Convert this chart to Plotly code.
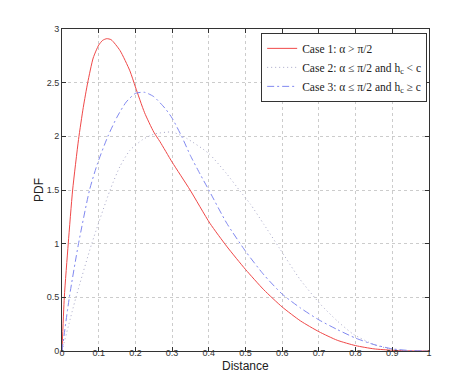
import plotly.graph_objects as go

x_case1 = [0, 0.0063, 0.017, 0.029, 0.045, 0.058, 0.07, 0.085, 0.1, 0.111, 0.122, 0.134, 0.158, 0.185, 0.2,
           0.225, 0.25, 0.267, 0.3, 0.349, 0.403, 0.45, 0.5, 0.55, 0.6, 0.65, 0.7, 0.75, 0.8,
           0.85, 0.9, 0.95, 1.0]
y_case1 = [0, 0.5, 1.0, 1.5, 1.97, 2.27, 2.5, 2.73, 2.85, 2.895, 2.91, 2.9, 2.8, 2.61, 2.46,
           2.22, 2.04, 1.95, 1.76, 1.5, 1.19, 0.97, 0.76, 0.57, 0.41, 0.28, 0.18, 0.1, 0.05,
           0.02, 0.007, 0.001, 0]

x_case2 = [0, 0.038, 0.081, 0.131, 0.158, 0.185, 0.22, 0.25, 0.3, 0.34, 0.4, 0.449, 0.485,
           0.513, 0.55, 0.594, 0.648, 0.703, 0.75, 0.794, 0.85, 0.9, 0.95, 1.0]
y_case2 = [0, 0.5, 1.0, 1.5, 1.72, 1.87, 1.97, 2.02, 2.04, 1.98, 1.84, 1.65, 1.49,
           1.37, 1.18, 0.95, 0.67, 0.44, 0.28, 0.156, 0.06, 0.015, 0.002, 0]

x_case3 = [0, 0.02, 0.045, 0.075, 0.097, 0.125, 0.15, 0.175, 0.2, 0.225, 0.25, 0.281, 0.3,
           0.326, 0.35, 0.376, 0.4, 0.449, 0.5, 0.55, 0.6, 0.65, 0.7, 0.75, 0.8, 0.85, 0.9,
           0.95, 1.0]
y_case3 = [0, 0.5, 1.0, 1.5, 1.75, 2.0, 2.18, 2.32, 2.4, 2.41, 2.37, 2.26, 2.17,
           2.0, 1.82, 1.65, 1.5, 1.19, 0.93, 0.71, 0.53, 0.4, 0.29, 0.2, 0.12, 0.06, 0.02,
           0.004, 0]

x_ticks = [0, 0.1, 0.2, 0.3, 0.4, 0.5, 0.6, 0.7, 0.8, 0.9, 1]
x_tick_labels = ["0", "0.1", "0.2", "0.3", "0.4", "0.5", "0.6", "0.7", "0.8", "0.9", "1"]
y_ticks = [0, 0.5, 1, 1.5, 2, 2.5, 3]
y_tick_labels = ["0", "0.5", "1", "1.5", "2", "2.5", "3"]

names = ["Case 1: α > π/2",
         "Case 2: α ≤ π/2 and h<sub>c</sub> < c",
         "Case 3: α ≤ π/2 and h<sub>c</sub> ≥ c"]
x_title = "Distance"
y_title = "PDF"

fig = go.Figure()
fig.add_trace(go.Scatter(x=x_case1, y=y_case1, mode="lines", name=names[0],
                         line=dict(color="#f04848", width=1, shape="spline", smoothing=0.6)))
fig.add_trace(go.Scatter(x=x_case2, y=y_case2, mode="lines", name=names[1],
                         line=dict(color="#a8a8c8", width=1, dash="1px,3px", shape="spline", smoothing=0.6)))
fig.add_trace(go.Scatter(x=x_case3, y=y_case3, mode="lines", name=names[2],
                         line=dict(color="#8088f0", width=1, dash="7px,3px,2px,3px", shape="spline", smoothing=0.6)))

axis_common = dict(
    showline=True, linecolor="#333333", linewidth=1, mirror="allticks",
    ticks="inside", ticklen=4, tickcolor="#333333",
    showgrid=True, gridcolor="#cccccc", griddash="dot", gridwidth=1,
    zeroline=False,
    tickfont=dict(family="Liberation Sans, Arial, sans-serif", size=9, color="#333333"),
)

fig.update_layout(
    width=466, height=378,
    paper_bgcolor="white", plot_bgcolor="white",
    margin=dict(l=54, r=45, t=21, b=35),
    showlegend=True,
    legend=dict(x=0.995, y=0.988, xanchor="right", yanchor="top",
                bgcolor="white", bordercolor="#333333", borderwidth=1,
                font=dict(family="Liberation Serif, Times New Roman, serif", size=11.5, color="#222222"),
                tracegroupgap=0, itemwidth=30),
    xaxis=dict(range=[0, 1], tickvals=x_ticks, ticktext=x_tick_labels,
               ticklabelstandoff=-7, **axis_common),
    yaxis=dict(range=[0, 3], tickvals=y_ticks, ticktext=y_tick_labels,
               title=dict(text=y_title, standoff=0,
                          font=dict(family="Liberation Sans, Arial, sans-serif", size=12, color="#222222")),
               **axis_common),
    annotations=[dict(text=x_title, xref="paper", yref="paper", x=0.5, y=0, xanchor="center",
                      yanchor="middle", yshift=-15, showarrow=False,
                      font=dict(family="Liberation Sans, Arial, sans-serif", size=12, color="#222222"))],
)

fig.write_html("out.html")
